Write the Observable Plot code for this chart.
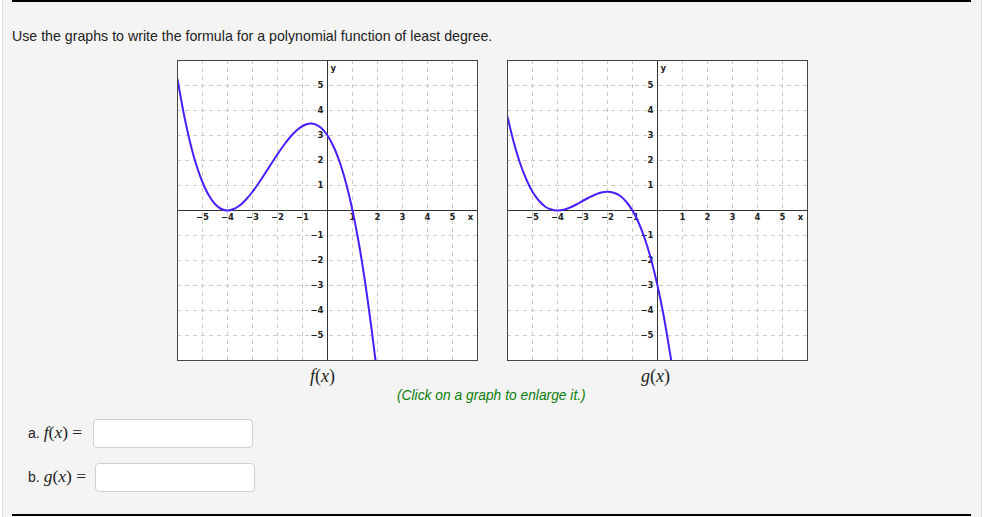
<!DOCTYPE html>
<html>
<head>
<meta charset="utf-8">
<script src="https://cdn.jsdelivr.net/npm/d3@7"></script>
<script src="https://cdn.jsdelivr.net/npm/@observablehq/plot@0.6"></script>
<style>
  html, body { margin: 0; padding: 0; background: #ffffff; width: 1006px; height: 517px; overflow: hidden; }
  #panel { position: absolute; left: 2px; top: 0; width: 978px; height: 517px; background: #f4f4f4;
           border-left: 1px solid #dedede; border-right: 1px solid #dedede; }
  .rule { position: absolute; left: 12px; width: 959px; height: 2px; background: #000; }
  .abs { position: absolute; white-space: nowrap; }
  .sans { font-family: "Liberation Sans", Arial, Helvetica, sans-serif; color: #222; }
  .math { font-family: "Liberation Serif", "Times New Roman", serif; color: #222; }
  .box { position: absolute; background: #fff; border: 1px solid #cfcfcf; border-radius: 4px; box-sizing: border-box; }
  .graph { position: absolute; top: 60px; width: 300px; height: 300px; }
</style>
</head>
<body>
<div id="panel"></div>
<div class="rule" style="top:0px"></div>
<div class="rule" style="top:514px"></div>
<div class="abs sans" style="left:12px; top:28px; font-size:14.2px;">Use the graphs to write the formula for a polynomial function of least degree.</div>
<div id="gf" class="graph" style="left:177px"></div>
<div id="gg" class="graph" style="left:507px"></div>
<div class="abs math" style="left:310px; top:366px; font-size:18px;"><i>f</i>(<i>x</i>)</div>
<div class="abs math" style="left:641px; top:366px; font-size:18px;"><i>g</i>(<i>x</i>)</div>
<div class="abs sans" style="left:397px; top:388px; font-size:13.8px; color:#0b7d0b; font-style:italic;">(Click on a graph to enlarge it.)</div>
<div class="abs" style="left:28px; top:422px;"><span class="sans" style="font-size:14px">a.</span> <span class="math" style="font-size:17.5px"><i>f</i>(<i>x</i>) =</span></div>
<div class="box" style="left:93px; top:419px; width:160px; height:29px;"></div>
<div class="abs" style="left:28px; top:466px;"><span class="sans" style="font-size:14px">b.</span> <span class="math" style="font-size:17.5px"><i>g</i>(<i>x</i>) =</span></div>
<div class="box" style="left:95px; top:463px; width:160px; height:29px;"></div>
<script>
// Tick labels and grid
const gridLines = [-5, -4, -3, -2, -1, 1, 2, 3, 4, 5];
const tickLabels = ["−5", "−4", "−3", "−2", "−1", "1", "2", "3", "4", "5"];
const tickValues = [-5, -4, -3, -2, -1, 1, 2, 3, 4, 5];

// f(x) curve points
const fX = [-6, -5.75, -5.5, -5.25, -5, -4.75, -4.5, -4.25, -4, -3.75, -3.5, -3.25, -3, -2.75, -2.5, -2.25, -2, -1.75, -1.5, -1.25, -1, -0.75, -0.5, -0.25, 0, 0.25, 0.5, 0.75, 1, 1.25, 1.5, 1.75, 1.92];
const fY = [5.25, 3.88, 2.74, 1.83, 1.13, 0.61, 0.26, 0.06, 0, 0.06, 0.21, 0.45, 0.75, 1.10, 1.48, 1.87, 2.25, 2.61, 2.93, 3.19, 3.38, 3.47, 3.45, 3.30, 3.0, 2.54, 1.90, 1.06, 0, -1.29, -2.84, -4.65, -6];

// g(x) curve points
const gX = [-6, -5.75, -5.5, -5.25, -5, -4.75, -4.5, -4.25, -4, -3.75, -3.5, -3.25, -3, -2.75, -2.5, -2.25, -2, -1.75, -1.5, -1.25, -1, -0.75, -0.5, -0.25, 0, 0.25, 0.5, 0.55];
const gY = [3.75, 2.73, 1.90, 1.25, 0.75, 0.40, 0.16, 0.04, 0, 0.03, 0.12, 0.24, 0.38, 0.51, 0.63, 0.72, 0.75, 0.71, 0.59, 0.35, 0, -0.50, -1.15, -1.98, -3.0, -4.23, -5.70, -6];

const curveColor = "#4b1eff";

function graph(xs, ys) {
  const pts = xs.map((x, i) => ({x, y: ys[i]}));
  const ticks = tickValues.map((v, i) => ({v, label: tickLabels[i]}));
  const tf = {fontFamily: "DejaVu Sans", fontSize: 8.5, fontWeight: "bold", fill: "#222"};
  return Plot.plot({
    width: 300, height: 300, margin: 0,
    style: {background: "#ffffff", overflow: "visible"},
    x: {domain: [-6, 6], axis: null},
    y: {domain: [-6, 6], axis: null},
    marks: [
      Plot.ruleX(gridLines, {stroke: "#cacaca", strokeWidth: 1, strokeDasharray: "4,4"}),
      Plot.ruleY(gridLines, {stroke: "#cacaca", strokeWidth: 1, strokeDasharray: "4,4"}),
      Plot.ruleX([0], {stroke: "#333", strokeWidth: 1}),
      Plot.ruleY([0], {stroke: "#333", strokeWidth: 1}),
      Plot.text(ticks, {x: "v", y: () => 0, text: "label", dy: 7, ...tf}),
      Plot.text(ticks, {x: () => 0, y: "v", text: "label", dx: -4, textAnchor: "end", ...tf}),
      Plot.text(["x"], {x: () => 5.72, y: () => 0, text: d => d, dy: 7, ...tf}),
      Plot.text(["y"], {x: () => 0, y: () => 5.7, text: d => d, dx: 3, textAnchor: "start", ...tf}),
      Plot.line(pts, {x: "x", y: "y", stroke: curveColor, strokeWidth: 2, curve: "catmull-rom", clip: true}),
      Plot.frame({stroke: "#444", strokeWidth: 1})
    ]
  });
}

document.getElementById("gf").appendChild(graph(fX, fY));
document.getElementById("gg").appendChild(graph(gX, gY));
</script>
</body>
</html>
